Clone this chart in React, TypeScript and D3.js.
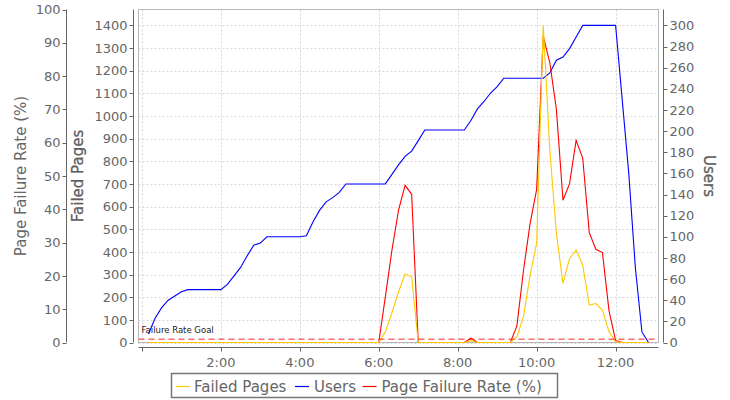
import React from "react";
import * as d3 from "d3";

const times = [
  "0:10", "0:20", "0:30", "0:40", "0:50",
  "1:00", "1:10", "1:20", "1:30", "1:40", "1:50",
  "2:00", "2:10", "2:20", "2:30", "2:40", "2:50",
  "3:00", "3:10", "3:20", "3:30", "3:40", "3:50",
  "4:00", "4:10", "4:20", "4:30", "4:40", "4:50",
  "5:00", "5:10", "5:20", "5:30", "5:40", "5:50",
  "6:00", "6:10", "6:20", "6:30", "6:40", "6:50",
  "7:00", "7:10", "7:20", "7:30", "7:40", "7:50",
  "8:00", "8:10", "8:20", "8:30", "8:40", "8:50",
  "9:00", "9:10", "9:20", "9:30", "9:40", "9:50",
  "10:00", "10:10", "10:20", "10:30", "10:40", "10:50",
  "11:00", "11:10", "11:20", "11:30", "11:40", "11:50",
  "12:00", "12:10", "12:20", "12:30", "12:40", "12:50",
];

const users = [
  8, 23, 33, 40, 44,
  48, 50, 50, 50, 50, 50,
  50, 55, 63, 71, 82, 92,
  94, 100, 100, 100, 100, 100,
  100, 101, 114, 125, 133, 137,
  142, 150, 150, 150, 150, 150,
  150, 150, 159, 168, 176, 181,
  191, 201, 201, 201, 201, 201,
  201, 201, 210, 221, 228, 236,
  242, 250, 250, 250, 250, 250,
  250, 250, 255, 267, 270, 278,
  289, 300, 300, 300, 300, 300,
  300, 230, 160, 71, 10, 0,
];

const failedPages = [
  0, 0, 0, 0, 0,
  0, 0, 0, 0, 0, 0,
  0, 0, 0, 0, 0, 0,
  0, 0, 0, 0, 0, 0,
  0, 0, 0, 0, 0, 0,
  0, 0, 0, 0, 0, 0,
  0, 47, 130, 223, 302, 290,
  0, 0, 0, 0, 0, 0,
  0, 0, 8, 0, 0, 0,
  0, 0, 0, 25, 115, 295,
  440, 1400, 850, 481, 261, 371,
  408, 341, 165, 172, 143, 47,
  3, 0, 0, 0, 0, 0,
];

const failureRate = [
  0, 0, 0, 0, 0,
  0, 0, 0, 0, 0, 0,
  0, 0, 0, 0, 0, 0,
  0, 0, 0, 0, 0, 0,
  0, 0, 0, 0, 0, 0,
  0, 0, 0, 0, 0, 0,
  0, 13.7, 27.7, 39.7, 47.2, 44.5,
  0, 0, 0, 0, 0, 0,
  0, 0, 1.3, 0, 0, 0,
  0, 0, 0, 5, 21.7, 35.7,
  46, 92, 84, 70, 42.7, 47.7,
  60.7, 55.4, 33, 28, 27, 9.5,
  0.6, 0, 0, 0, 0, 0,
];

const failureRateGoal = 1;
const xTickLabels = ["", "2:00", "4:00", "6:00", "8:00", "10:00", "12:00"];
const pagesTicks = [0, 100, 200, 300, 400, 500, 600, 700, 800, 900, 1000, 1100, 1200, 1300, 1400];
const rateTicks = [0, 10, 20, 30, 40, 50, 60, 70, 80, 90, 100];
const userTicks = [0, 20, 40, 60, 80, 100, 120, 140, 160, 180, 200, 220, 240, 260, 280, 300];

const seriesNames = ["Failed Pages", "Users", "Page Failure Rate (%)"];
const seriesColors = ["#FFC800", "#0000FF", "#FF0000"];

const toMin = (s: string) => {
  const [h, m] = s.split(":").map(Number);
  return h * 60 + m;
};

export default function App() {
  const W = 730, H = 400;
  const L = 138.5, R = 658.5, T = 9.5, B = 342.5;
  const FONT = "'DejaVu Sans', sans-serif";
  const tickCol = "#666";
  const axisCol = "#666";

  const mins = times.map(toMin);
  const minT = d3.min(mins)!, maxT = d3.max(mins)!;
  const marg = (maxT - minT) * 0.02;
  const x = d3.scaleLinear().domain([minT - marg, maxT + marg]).range([L, R]);
  const yPages = d3.scaleLinear().domain([0, d3.max(failedPages)! * 1.05]).range([B, T]);
  const yUsers = d3.scaleLinear().domain([0, d3.max(users)! * 1.05]).range([B, T]);
  const yRate = d3.scaleLinear().domain([0, 100]).range([B, T]);

  const xTicks = xTickLabels.map((_, i) => i * 120);

  const mk = (vals: number[], y: d3.ScaleLinear<number, number>) =>
    d3.line<number>().x((_, i) => x(mins[i])).y((v) => y(v))(vals) || "";

  const xAxisY = B + 5;
  const pagesAxisX = L - 5;
  const rateAxisX = 66.5;
  const usersAxisX = R + 5;

  return (
    <svg width={W} height={H} style={{ position: "absolute", left: 0, top: 0, background: "#fff" }}>
      <rect x={0} y={0} width={W} height={H} fill="#fff" />
      <rect x={L} y={T} width={R - L} height={B - T} fill="#fff" />
      {pagesTicks.map((t) => (
        <line key={"gh" + t} x1={L} x2={R} y1={Math.round(yPages(t)) + 0.5} y2={Math.round(yPages(t)) + 0.5}
          stroke="#d6d6d6" strokeDasharray="2,2" strokeWidth={1} />
      ))}
      {xTicks.map((t) => (
        <line key={"gv" + t} y1={T} y2={B} x1={Math.round(x(t)) + 0.5} x2={Math.round(x(t)) + 0.5}
          stroke="#d6d6d6" strokeDasharray="2,2" strokeWidth={1} />
      ))}
      <rect x={L} y={T} width={R - L} height={B - T} fill="none" stroke="#b8b8b8" strokeWidth={1} />

      <path d={mk(users, yUsers)} fill="none" stroke={seriesColors[1]} strokeWidth={1.1} />
      <path d={mk(failureRate, yRate)} fill="none" stroke={seriesColors[2]} strokeWidth={1.1} />
      <path d={mk(failedPages, yPages)} fill="none" stroke={seriesColors[0]} strokeWidth={1.1} />

      <line x1={L} x2={R} y1={yRate(failureRateGoal)} y2={yRate(failureRateGoal)}
        stroke="#ff2020" strokeWidth={1} strokeDasharray="6,4" />
      <text x={L + 3} y={yRate(failureRateGoal) - 6} fontFamily={FONT} fontSize={8.5} fill="#222">
        Failure Rate Goal
      </text>

      <line x1={L} x2={R} y1={xAxisY} y2={xAxisY} stroke={axisCol} strokeWidth={1} />
      {xTicks.map((t, i) => (
        <g key={"xt" + t}>
          <line x1={Math.round(x(t)) + 0.5} x2={Math.round(x(t)) + 0.5} y1={xAxisY} y2={xAxisY + 4} stroke={axisCol} />
          <text x={x(t)} y={xAxisY + 19} textAnchor="middle" fontFamily={FONT} fontSize={13} fill={tickCol}>
            {xTickLabels[i]}
          </text>
        </g>
      ))}

      <line x1={pagesAxisX} x2={pagesAxisX} y1={T} y2={B} stroke={axisCol} />
      {pagesTicks.map((t) => (
        <g key={"pt" + t}>
          <line x1={pagesAxisX - 4} x2={pagesAxisX} y1={Math.round(yPages(t)) + 0.5} y2={Math.round(yPages(t)) + 0.5} stroke={axisCol} />
          <text x={pagesAxisX - 6} y={yPages(t)} dy="0.36em" textAnchor="end" fontFamily={FONT} fontSize={13} fill={tickCol}>
            {t}
          </text>
        </g>
      ))}
      <text transform="translate(78,176) rotate(-90)" textAnchor="middle" dy="0.36em" fontFamily={FONT}
        fontSize={15} fill="#5e5e5e" stroke="#5e5e5e" strokeWidth={0.3}>Failed Pages</text>

      <line x1={rateAxisX} x2={rateAxisX} y1={T} y2={B} stroke={axisCol} />
      {rateTicks.map((t) => (
        <g key={"rt" + t}>
          <line x1={rateAxisX - 4} x2={rateAxisX} y1={Math.round(yRate(t)) + 0.5} y2={Math.round(yRate(t)) + 0.5} stroke={axisCol} />
          <text x={rateAxisX - 6} y={yRate(t)} dy="0.36em" textAnchor="end" fontFamily={FONT} fontSize={13} fill={tickCol}>
            {t}
          </text>
        </g>
      ))}
      <text transform="translate(21,176) rotate(-90)" textAnchor="middle" dy="0.36em" fontFamily={FONT}
        fontSize={15} fill="#666">Page Failure Rate (%)</text>

      <line x1={usersAxisX} x2={usersAxisX} y1={T} y2={B} stroke={axisCol} />
      {userTicks.map((t) => (
        <g key={"ut" + t}>
          <line x1={usersAxisX} x2={usersAxisX + 4} y1={Math.round(yUsers(t)) + 0.5} y2={Math.round(yUsers(t)) + 0.5} stroke={axisCol} />
          <text x={usersAxisX + 6} y={yUsers(t)} dy="0.36em" textAnchor="start" fontFamily={FONT} fontSize={13} fill={tickCol}>
            {t}
          </text>
        </g>
      ))}
      <text transform="translate(709,176) rotate(90)" textAnchor="middle" dy="0.36em" fontFamily={FONT}
        fontSize={15} fill="#5e5e5e" stroke="#5e5e5e" strokeWidth={0.3}>Users</text>

      <rect x={171.5} y={373.5} width={386} height={24} fill="#fff" stroke="#777" strokeWidth={1.5} />
      {[
        { lx: 176, tx: 194 },
        { lx: 295, tx: 314 },
        { lx: 362.5, tx: 381.5 },
      ].map((p, i) => (
        <g key={"lg" + i}>
          <line x1={p.lx} x2={p.lx + 14} y1={386.5} y2={386.5} stroke={seriesColors[i]} strokeWidth={1.2} />
          <text x={p.tx} y={386.5} dy="0.36em" fontFamily={FONT} fontSize={15} fill="#666">
            {seriesNames[i]}
          </text>
        </g>
      ))}
    </svg>
  );
}
